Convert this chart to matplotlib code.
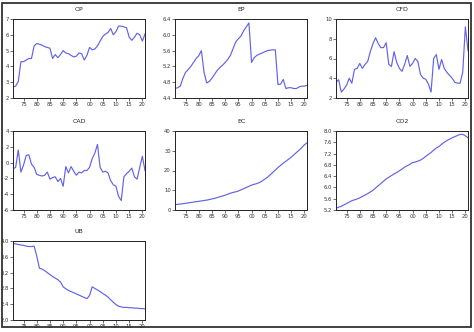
import numpy as np
import matplotlib.pyplot as plt
from matplotlib.patches import Rectangle

years = np.arange(1971, 2022)

op = [2.7, 2.75, 3.05, 4.3, 4.3, 4.4, 4.5, 4.5, 5.3, 5.45, 5.4, 5.35, 5.25, 5.2,
      5.15, 4.5, 4.75, 4.55, 4.75, 5.0, 4.85, 4.8, 4.7, 4.6, 4.65, 4.85, 4.8, 4.4,
      4.7, 5.2, 5.05, 5.1, 5.3, 5.6, 5.9, 6.05, 6.15, 6.4, 6.0, 6.2, 6.55, 6.55,
      6.5, 6.45, 5.85, 5.65, 5.85, 6.1, 6.0, 5.6, 6.05]

ep = [4.64, 4.66, 4.7, 4.9, 5.05, 5.12, 5.2, 5.3, 5.4, 5.47, 5.6, 5.05, 4.78, 4.82,
      4.9, 5.0, 5.1, 5.17, 5.23, 5.3, 5.38, 5.48, 5.65, 5.82, 5.9, 5.97, 6.1, 6.2,
      6.3, 5.3, 5.42, 5.48, 5.51, 5.54, 5.57, 5.6, 5.61, 5.62, 5.62, 4.74, 4.75,
      4.87, 4.64, 4.66, 4.66, 4.64, 4.64, 4.68, 4.7, 4.7, 4.72]

cfd = [3.6, 3.85, 2.6, 2.9, 3.3, 4.0, 3.5, 4.9, 5.0, 5.5, 5.0, 5.4, 5.7, 6.7, 7.5,
       8.1, 7.5, 7.1, 7.1, 7.6, 5.4, 5.2, 6.7, 5.6, 5.0, 4.7, 5.4, 6.3, 5.2, 5.5,
       6.0, 5.7, 4.4, 4.0, 3.9, 3.4, 2.6, 6.0, 6.4, 4.9, 5.9, 5.0, 4.6, 4.3, 4.0,
       3.6, 3.5, 3.5, 4.6, 9.2, 6.8]

cad = [-0.8, -0.6, 1.6, -1.2, -0.3, 0.9, 1.0, -0.2, -0.6, -1.5, -1.6, -1.7, -1.6,
       -1.2, -2.1, -1.9, -1.8, -2.4, -2.0, -3.0, -0.5, -1.3, -0.5, -1.1, -1.6, -1.2,
       -1.3, -1.0, -1.0, -0.6, 0.5, 1.2, 2.3, -0.6, -1.2, -1.1, -1.3, -2.3, -2.8,
       -3.0, -4.3, -4.8, -1.8, -1.4, -1.1, -0.7, -1.8, -2.1, -0.6, 0.8, -1.0]

ec = [2.7, 2.9, 3.0, 3.2, 3.4, 3.6, 3.8, 4.0, 4.2, 4.4, 4.6, 4.8, 5.0, 5.3, 5.6,
      5.9, 6.3, 6.7, 7.1, 7.5, 8.0, 8.5, 8.9, 9.2, 9.6, 10.2, 10.8, 11.4, 12.0,
      12.6, 13.0, 13.4, 13.9, 14.7, 15.6, 16.6, 17.7, 19.0, 20.2, 21.5, 22.6, 23.7,
      24.7, 25.7, 26.7, 27.9, 29.1, 30.3, 31.6, 33.0, 34.0]

co2 = [5.26, 5.3, 5.33, 5.38, 5.43, 5.48, 5.53, 5.56, 5.59, 5.63, 5.68, 5.73, 5.78,
       5.84, 5.9, 5.98, 6.06, 6.14, 6.22, 6.3, 6.36, 6.42, 6.48, 6.53, 6.59, 6.65,
       6.72, 6.77, 6.82, 6.88, 6.9, 6.93, 6.97, 7.03, 7.1, 7.17, 7.24, 7.32, 7.4,
       7.45, 7.53, 7.6, 7.66, 7.71, 7.76, 7.8, 7.84, 7.88, 7.88, 7.83, 7.76]

ub = [3.93, 3.93, 3.91, 3.9, 3.89, 3.87, 3.86, 3.86, 3.87, 3.62, 3.31, 3.29, 3.25,
      3.2, 3.15, 3.1, 3.06, 3.02, 2.96, 2.84, 2.79, 2.75, 2.72, 2.69, 2.66, 2.63,
      2.6, 2.57, 2.54, 2.62, 2.84, 2.8, 2.76, 2.72, 2.67, 2.63, 2.58, 2.51, 2.45,
      2.39, 2.35, 2.33, 2.32, 2.32, 2.31, 2.31, 2.3, 2.3, 2.29, 2.29, 2.28]

xticks = np.arange(1975, 2021, 5)
xlabels = ['75', '80', '85', '90', '95', '00', '05', '10', '15', '20']

panels = [
    ('OP', op, np.arange(2, 8, 1), '%d'),
    ('EP', ep, np.arange(4.4, 6.41, 0.4), '%.1f'),
    ('CFD', cfd, np.arange(2, 11, 2), '%d'),
    ('CAD', cad, np.arange(-6, 5, 2), '%d'),
    ('EC', ec, np.arange(0, 41, 10), '%d'),
    ('CO2', co2, np.arange(5.2, 8.01, 0.4), '%.1f'),
    ('UB', ub, np.arange(2.0, 4.01, 0.4), '%.1f'),
]

lefts = [13, 175, 336]
tops = [19, 131, 241]
W, H = 474, 332
aw, ah = 132, 79

fig = plt.figure(figsize=(W / 100, H / 100), dpi=100)
fig.patch.set_facecolor('white')

for i, (name, vals, yt, fmt) in enumerate(panels):
    r, c = divmod(i, 3)
    ax = fig.add_axes([lefts[c] / W, 1 - (tops[r] + ah) / H, aw / W, ah / H])
    ax.plot(years, vals, color='#6262e8', lw=0.85)
    ax.set_xlim(1971, 2021)
    ax.set_ylim(yt[0], yt[-1])
    ax.set_xticks(xticks)
    ax.set_xticklabels(xlabels)
    ax.set_yticks(yt)
    ax.set_yticklabels([fmt % v for v in yt])
    ax.tick_params(labelsize=3.8, length=2, width=0.5, pad=1, colors='#333333')
    for s in ax.spines.values():
        s.set_linewidth(0.7)
        s.set_color('#222222')
    ax.set_title(name, fontsize=4.5, pad=6, color='#222222')

# frame round the whole panel set
fig.add_artist(Rectangle((1.5 / W, 1 - 327 / H), 469 / W, 324 / H,
                         transform=fig.transFigure, fill=False,
                         edgecolor='#333333', lw=1.3))

fig.savefig('out.png', dpi=100)
